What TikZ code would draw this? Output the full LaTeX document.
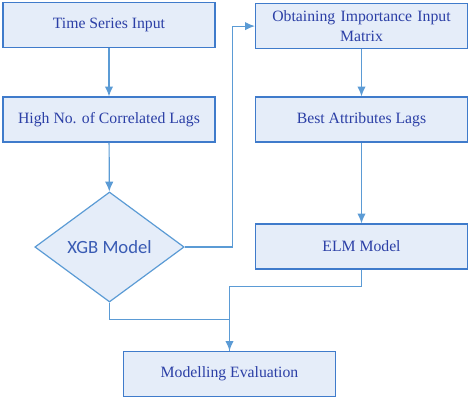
\documentclass[tikz,border=0pt]{standalone}
\usepackage{fontspec}
\setmainfont{Liberation Serif}
\newfontfamily\calfont{Carlito}
\usepackage{xcolor}
\usetikzlibrary{positioning,arrows.meta,shapes.geometric}
\definecolor{boxfill}{HTML}{E5EDF9}
\definecolor{boxline}{HTML}{3F7BCB}
\definecolor{flowline}{HTML}{5B9BD5}
\definecolor{boxtext}{HTML}{2B3FA6}
\tikzset{every picture/.style={line width=0.9pt}}

\begin{document}
\begin{tikzpicture}[x=0.75pt,y=-0.75pt,
    stagebox/.style={draw=boxline,fill=boxfill,text=boxtext,minimum width=159pt,minimum height=33.75pt,inner sep=2pt,font=\fontsize{11.8}{15}\selectfont},
    modelbox/.style={diamond,draw=flowline,fill=boxfill,text=boxtext!70!flowline,minimum width=112pt,minimum height=82.5pt,inner sep=0pt,font=\calfont\fontsize{14}{15}\selectfont},
    flow/.style={draw=flowline,-{Latex[length=2.6mm,width=2.2mm]}}]
  \useasboundingbox (0,0) rectangle (474,401);
    % left column
    \node[stagebox] (tsin) at (109,25) {Time Series Input};
    \node[stagebox] (lags) at (109,119.5) {High No. of Correlated Lags};
    \node[modelbox] (xgb) at (109.5,247) {XGB Model};
    % right column
    \node[stagebox,text width=155pt,align=center,anchor=north,inner sep=1pt] (obt) at (361.5,3) {Obtaining Importance Input \\ Matrix};
    \node[stagebox] (best) at (361.5,119.5) {Best Attributes Lags};
    \node[stagebox] (elm) at (361.5,246.5) {ELM Model};
    % bottom
    \node[stagebox] (eval) at (229.5,374) {Modelling Evaluation};

    \draw[flow] (tsin) -- (lags);
    \draw[flow] (lags) -- (xgb);
    \draw[flow] (xgb.east) -- ++(48,0) |- (obt.west);
    \draw[flow] (obt) -- (best);
    \draw[flow] (best) -- (elm);
    \draw[flow] (elm.south) -- ++(0,17) -| (eval.north);
    \draw[draw=flowline] (xgb.south) -- ++(0,17) -| (eval.north);
  \end{tikzpicture}
\end{document}
